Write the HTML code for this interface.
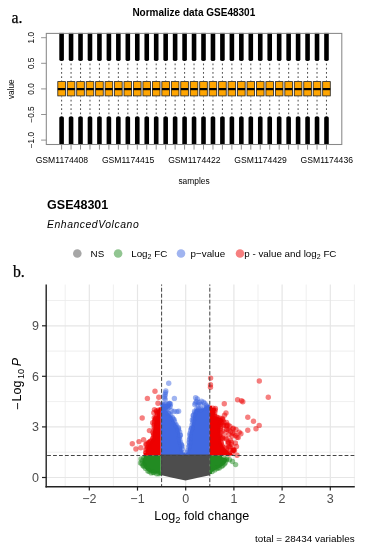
<!DOCTYPE html>
<html><head><meta charset="utf-8"><style>
html,body{margin:0;padding:0;background:#fff;width:367px;height:550px;overflow:hidden}
svg{display:block;filter:blur(0.35px)}
.sans{font-family:"Liberation Sans",Arial,sans-serif}
.serif{font-family:"Liberation Serif","Times New Roman",serif}
.b{font-weight:bold}
.i{font-style:italic}
</style></head><body>
<svg width="367" height="550" viewBox="0 0 367 550">
<text x="11.4" y="22.7" class="serif" font-size="15.8" stroke="#000" stroke-width="0.25">a.</text>
<text x="193.8" y="16.3" class="sans b" font-size="10" text-anchor="middle">Normalize data GSE48301</text>
<rect x="46.3" y="33.4" width="295.5" height="111.1" fill="#fff"/>
<line x1="61.60" y1="60" x2="61.60" y2="81.2" stroke="#555" stroke-width="1.05" stroke-dasharray="1.7 2.55" stroke-dashoffset="0.8"/>
<line x1="61.60" y1="96.4" x2="61.60" y2="117" stroke="#555" stroke-width="1.05" stroke-dasharray="1.7 2.55" stroke-dashoffset="0.8"/>
<line x1="71.06" y1="60" x2="71.06" y2="81.2" stroke="#555" stroke-width="1.05" stroke-dasharray="1.7 2.55" stroke-dashoffset="0.8"/>
<line x1="71.06" y1="96.4" x2="71.06" y2="117" stroke="#555" stroke-width="1.05" stroke-dasharray="1.7 2.55" stroke-dashoffset="0.8"/>
<line x1="80.52" y1="60" x2="80.52" y2="81.2" stroke="#555" stroke-width="1.05" stroke-dasharray="1.7 2.55" stroke-dashoffset="0.8"/>
<line x1="80.52" y1="96.4" x2="80.52" y2="117" stroke="#555" stroke-width="1.05" stroke-dasharray="1.7 2.55" stroke-dashoffset="0.8"/>
<line x1="89.98" y1="60" x2="89.98" y2="81.2" stroke="#555" stroke-width="1.05" stroke-dasharray="1.7 2.55" stroke-dashoffset="0.8"/>
<line x1="89.98" y1="96.4" x2="89.98" y2="117" stroke="#555" stroke-width="1.05" stroke-dasharray="1.7 2.55" stroke-dashoffset="0.8"/>
<line x1="99.44" y1="60" x2="99.44" y2="81.2" stroke="#555" stroke-width="1.05" stroke-dasharray="1.7 2.55" stroke-dashoffset="0.8"/>
<line x1="99.44" y1="96.4" x2="99.44" y2="117" stroke="#555" stroke-width="1.05" stroke-dasharray="1.7 2.55" stroke-dashoffset="0.8"/>
<line x1="108.90" y1="60" x2="108.90" y2="81.2" stroke="#555" stroke-width="1.05" stroke-dasharray="1.7 2.55" stroke-dashoffset="0.8"/>
<line x1="108.90" y1="96.4" x2="108.90" y2="117" stroke="#555" stroke-width="1.05" stroke-dasharray="1.7 2.55" stroke-dashoffset="0.8"/>
<line x1="118.36" y1="60" x2="118.36" y2="81.2" stroke="#555" stroke-width="1.05" stroke-dasharray="1.7 2.55" stroke-dashoffset="0.8"/>
<line x1="118.36" y1="96.4" x2="118.36" y2="117" stroke="#555" stroke-width="1.05" stroke-dasharray="1.7 2.55" stroke-dashoffset="0.8"/>
<line x1="127.82" y1="60" x2="127.82" y2="81.2" stroke="#555" stroke-width="1.05" stroke-dasharray="1.7 2.55" stroke-dashoffset="0.8"/>
<line x1="127.82" y1="96.4" x2="127.82" y2="117" stroke="#555" stroke-width="1.05" stroke-dasharray="1.7 2.55" stroke-dashoffset="0.8"/>
<line x1="137.28" y1="60" x2="137.28" y2="81.2" stroke="#555" stroke-width="1.05" stroke-dasharray="1.7 2.55" stroke-dashoffset="0.8"/>
<line x1="137.28" y1="96.4" x2="137.28" y2="117" stroke="#555" stroke-width="1.05" stroke-dasharray="1.7 2.55" stroke-dashoffset="0.8"/>
<line x1="146.74" y1="60" x2="146.74" y2="81.2" stroke="#555" stroke-width="1.05" stroke-dasharray="1.7 2.55" stroke-dashoffset="0.8"/>
<line x1="146.74" y1="96.4" x2="146.74" y2="117" stroke="#555" stroke-width="1.05" stroke-dasharray="1.7 2.55" stroke-dashoffset="0.8"/>
<line x1="156.20" y1="60" x2="156.20" y2="81.2" stroke="#555" stroke-width="1.05" stroke-dasharray="1.7 2.55" stroke-dashoffset="0.8"/>
<line x1="156.20" y1="96.4" x2="156.20" y2="117" stroke="#555" stroke-width="1.05" stroke-dasharray="1.7 2.55" stroke-dashoffset="0.8"/>
<line x1="165.66" y1="60" x2="165.66" y2="81.2" stroke="#555" stroke-width="1.05" stroke-dasharray="1.7 2.55" stroke-dashoffset="0.8"/>
<line x1="165.66" y1="96.4" x2="165.66" y2="117" stroke="#555" stroke-width="1.05" stroke-dasharray="1.7 2.55" stroke-dashoffset="0.8"/>
<line x1="175.12" y1="60" x2="175.12" y2="81.2" stroke="#555" stroke-width="1.05" stroke-dasharray="1.7 2.55" stroke-dashoffset="0.8"/>
<line x1="175.12" y1="96.4" x2="175.12" y2="117" stroke="#555" stroke-width="1.05" stroke-dasharray="1.7 2.55" stroke-dashoffset="0.8"/>
<line x1="184.58" y1="60" x2="184.58" y2="81.2" stroke="#555" stroke-width="1.05" stroke-dasharray="1.7 2.55" stroke-dashoffset="0.8"/>
<line x1="184.58" y1="96.4" x2="184.58" y2="117" stroke="#555" stroke-width="1.05" stroke-dasharray="1.7 2.55" stroke-dashoffset="0.8"/>
<line x1="194.04" y1="60" x2="194.04" y2="81.2" stroke="#555" stroke-width="1.05" stroke-dasharray="1.7 2.55" stroke-dashoffset="0.8"/>
<line x1="194.04" y1="96.4" x2="194.04" y2="117" stroke="#555" stroke-width="1.05" stroke-dasharray="1.7 2.55" stroke-dashoffset="0.8"/>
<line x1="203.50" y1="60" x2="203.50" y2="81.2" stroke="#555" stroke-width="1.05" stroke-dasharray="1.7 2.55" stroke-dashoffset="0.8"/>
<line x1="203.50" y1="96.4" x2="203.50" y2="117" stroke="#555" stroke-width="1.05" stroke-dasharray="1.7 2.55" stroke-dashoffset="0.8"/>
<line x1="212.96" y1="60" x2="212.96" y2="81.2" stroke="#555" stroke-width="1.05" stroke-dasharray="1.7 2.55" stroke-dashoffset="0.8"/>
<line x1="212.96" y1="96.4" x2="212.96" y2="117" stroke="#555" stroke-width="1.05" stroke-dasharray="1.7 2.55" stroke-dashoffset="0.8"/>
<line x1="222.42" y1="60" x2="222.42" y2="81.2" stroke="#555" stroke-width="1.05" stroke-dasharray="1.7 2.55" stroke-dashoffset="0.8"/>
<line x1="222.42" y1="96.4" x2="222.42" y2="117" stroke="#555" stroke-width="1.05" stroke-dasharray="1.7 2.55" stroke-dashoffset="0.8"/>
<line x1="231.88" y1="60" x2="231.88" y2="81.2" stroke="#555" stroke-width="1.05" stroke-dasharray="1.7 2.55" stroke-dashoffset="0.8"/>
<line x1="231.88" y1="96.4" x2="231.88" y2="117" stroke="#555" stroke-width="1.05" stroke-dasharray="1.7 2.55" stroke-dashoffset="0.8"/>
<line x1="241.34" y1="60" x2="241.34" y2="81.2" stroke="#555" stroke-width="1.05" stroke-dasharray="1.7 2.55" stroke-dashoffset="0.8"/>
<line x1="241.34" y1="96.4" x2="241.34" y2="117" stroke="#555" stroke-width="1.05" stroke-dasharray="1.7 2.55" stroke-dashoffset="0.8"/>
<line x1="250.80" y1="60" x2="250.80" y2="81.2" stroke="#555" stroke-width="1.05" stroke-dasharray="1.7 2.55" stroke-dashoffset="0.8"/>
<line x1="250.80" y1="96.4" x2="250.80" y2="117" stroke="#555" stroke-width="1.05" stroke-dasharray="1.7 2.55" stroke-dashoffset="0.8"/>
<line x1="260.26" y1="60" x2="260.26" y2="81.2" stroke="#555" stroke-width="1.05" stroke-dasharray="1.7 2.55" stroke-dashoffset="0.8"/>
<line x1="260.26" y1="96.4" x2="260.26" y2="117" stroke="#555" stroke-width="1.05" stroke-dasharray="1.7 2.55" stroke-dashoffset="0.8"/>
<line x1="269.72" y1="60" x2="269.72" y2="81.2" stroke="#555" stroke-width="1.05" stroke-dasharray="1.7 2.55" stroke-dashoffset="0.8"/>
<line x1="269.72" y1="96.4" x2="269.72" y2="117" stroke="#555" stroke-width="1.05" stroke-dasharray="1.7 2.55" stroke-dashoffset="0.8"/>
<line x1="279.18" y1="60" x2="279.18" y2="81.2" stroke="#555" stroke-width="1.05" stroke-dasharray="1.7 2.55" stroke-dashoffset="0.8"/>
<line x1="279.18" y1="96.4" x2="279.18" y2="117" stroke="#555" stroke-width="1.05" stroke-dasharray="1.7 2.55" stroke-dashoffset="0.8"/>
<line x1="288.64" y1="60" x2="288.64" y2="81.2" stroke="#555" stroke-width="1.05" stroke-dasharray="1.7 2.55" stroke-dashoffset="0.8"/>
<line x1="288.64" y1="96.4" x2="288.64" y2="117" stroke="#555" stroke-width="1.05" stroke-dasharray="1.7 2.55" stroke-dashoffset="0.8"/>
<line x1="298.10" y1="60" x2="298.10" y2="81.2" stroke="#555" stroke-width="1.05" stroke-dasharray="1.7 2.55" stroke-dashoffset="0.8"/>
<line x1="298.10" y1="96.4" x2="298.10" y2="117" stroke="#555" stroke-width="1.05" stroke-dasharray="1.7 2.55" stroke-dashoffset="0.8"/>
<line x1="307.56" y1="60" x2="307.56" y2="81.2" stroke="#555" stroke-width="1.05" stroke-dasharray="1.7 2.55" stroke-dashoffset="0.8"/>
<line x1="307.56" y1="96.4" x2="307.56" y2="117" stroke="#555" stroke-width="1.05" stroke-dasharray="1.7 2.55" stroke-dashoffset="0.8"/>
<line x1="317.02" y1="60" x2="317.02" y2="81.2" stroke="#555" stroke-width="1.05" stroke-dasharray="1.7 2.55" stroke-dashoffset="0.8"/>
<line x1="317.02" y1="96.4" x2="317.02" y2="117" stroke="#555" stroke-width="1.05" stroke-dasharray="1.7 2.55" stroke-dashoffset="0.8"/>
<line x1="326.48" y1="60" x2="326.48" y2="81.2" stroke="#555" stroke-width="1.05" stroke-dasharray="1.7 2.55" stroke-dashoffset="0.8"/>
<line x1="326.48" y1="96.4" x2="326.48" y2="117" stroke="#555" stroke-width="1.05" stroke-dasharray="1.7 2.55" stroke-dashoffset="0.8"/>
<rect x="59.30" y="30.4" width="4.6" height="30.7" rx="2.3" ry="1.6" fill="#000"/>
<rect x="59.30" y="116.2" width="4.6" height="31.3" rx="2.3" ry="1.6" fill="#000"/>
<rect x="68.76" y="30.4" width="4.6" height="30.7" rx="2.3" ry="1.6" fill="#000"/>
<rect x="68.76" y="116.2" width="4.6" height="31.3" rx="2.3" ry="1.6" fill="#000"/>
<rect x="78.22" y="30.4" width="4.6" height="30.7" rx="2.3" ry="1.6" fill="#000"/>
<rect x="78.22" y="116.2" width="4.6" height="31.3" rx="2.3" ry="1.6" fill="#000"/>
<rect x="87.68" y="30.4" width="4.6" height="30.7" rx="2.3" ry="1.6" fill="#000"/>
<rect x="87.68" y="116.2" width="4.6" height="31.3" rx="2.3" ry="1.6" fill="#000"/>
<rect x="97.14" y="30.4" width="4.6" height="30.7" rx="2.3" ry="1.6" fill="#000"/>
<rect x="97.14" y="116.2" width="4.6" height="31.3" rx="2.3" ry="1.6" fill="#000"/>
<rect x="106.60" y="30.4" width="4.6" height="30.7" rx="2.3" ry="1.6" fill="#000"/>
<rect x="106.60" y="116.2" width="4.6" height="31.3" rx="2.3" ry="1.6" fill="#000"/>
<rect x="116.06" y="30.4" width="4.6" height="30.7" rx="2.3" ry="1.6" fill="#000"/>
<rect x="116.06" y="116.2" width="4.6" height="31.3" rx="2.3" ry="1.6" fill="#000"/>
<rect x="125.52" y="30.4" width="4.6" height="30.7" rx="2.3" ry="1.6" fill="#000"/>
<rect x="125.52" y="116.2" width="4.6" height="31.3" rx="2.3" ry="1.6" fill="#000"/>
<rect x="134.98" y="30.4" width="4.6" height="30.7" rx="2.3" ry="1.6" fill="#000"/>
<rect x="134.98" y="116.2" width="4.6" height="31.3" rx="2.3" ry="1.6" fill="#000"/>
<rect x="144.44" y="30.4" width="4.6" height="30.7" rx="2.3" ry="1.6" fill="#000"/>
<rect x="144.44" y="116.2" width="4.6" height="31.3" rx="2.3" ry="1.6" fill="#000"/>
<rect x="153.90" y="30.4" width="4.6" height="30.7" rx="2.3" ry="1.6" fill="#000"/>
<rect x="153.90" y="116.2" width="4.6" height="31.3" rx="2.3" ry="1.6" fill="#000"/>
<rect x="163.36" y="30.4" width="4.6" height="30.7" rx="2.3" ry="1.6" fill="#000"/>
<rect x="163.36" y="116.2" width="4.6" height="31.3" rx="2.3" ry="1.6" fill="#000"/>
<rect x="172.82" y="30.4" width="4.6" height="30.7" rx="2.3" ry="1.6" fill="#000"/>
<rect x="172.82" y="116.2" width="4.6" height="31.3" rx="2.3" ry="1.6" fill="#000"/>
<rect x="182.28" y="30.4" width="4.6" height="30.7" rx="2.3" ry="1.6" fill="#000"/>
<rect x="182.28" y="116.2" width="4.6" height="31.3" rx="2.3" ry="1.6" fill="#000"/>
<rect x="191.74" y="30.4" width="4.6" height="30.7" rx="2.3" ry="1.6" fill="#000"/>
<rect x="191.74" y="116.2" width="4.6" height="31.3" rx="2.3" ry="1.6" fill="#000"/>
<rect x="201.20" y="30.4" width="4.6" height="30.7" rx="2.3" ry="1.6" fill="#000"/>
<rect x="201.20" y="116.2" width="4.6" height="31.3" rx="2.3" ry="1.6" fill="#000"/>
<rect x="210.66" y="30.4" width="4.6" height="30.7" rx="2.3" ry="1.6" fill="#000"/>
<rect x="210.66" y="116.2" width="4.6" height="31.3" rx="2.3" ry="1.6" fill="#000"/>
<rect x="220.12" y="30.4" width="4.6" height="30.7" rx="2.3" ry="1.6" fill="#000"/>
<rect x="220.12" y="116.2" width="4.6" height="31.3" rx="2.3" ry="1.6" fill="#000"/>
<rect x="229.58" y="30.4" width="4.6" height="30.7" rx="2.3" ry="1.6" fill="#000"/>
<rect x="229.58" y="116.2" width="4.6" height="31.3" rx="2.3" ry="1.6" fill="#000"/>
<rect x="239.04" y="30.4" width="4.6" height="30.7" rx="2.3" ry="1.6" fill="#000"/>
<rect x="239.04" y="116.2" width="4.6" height="31.3" rx="2.3" ry="1.6" fill="#000"/>
<rect x="248.50" y="30.4" width="4.6" height="30.7" rx="2.3" ry="1.6" fill="#000"/>
<rect x="248.50" y="116.2" width="4.6" height="31.3" rx="2.3" ry="1.6" fill="#000"/>
<rect x="257.96" y="30.4" width="4.6" height="30.7" rx="2.3" ry="1.6" fill="#000"/>
<rect x="257.96" y="116.2" width="4.6" height="31.3" rx="2.3" ry="1.6" fill="#000"/>
<rect x="267.42" y="30.4" width="4.6" height="30.7" rx="2.3" ry="1.6" fill="#000"/>
<rect x="267.42" y="116.2" width="4.6" height="31.3" rx="2.3" ry="1.6" fill="#000"/>
<rect x="276.88" y="30.4" width="4.6" height="30.7" rx="2.3" ry="1.6" fill="#000"/>
<rect x="276.88" y="116.2" width="4.6" height="31.3" rx="2.3" ry="1.6" fill="#000"/>
<rect x="286.34" y="30.4" width="4.6" height="30.7" rx="2.3" ry="1.6" fill="#000"/>
<rect x="286.34" y="116.2" width="4.6" height="31.3" rx="2.3" ry="1.6" fill="#000"/>
<rect x="295.80" y="30.4" width="4.6" height="30.7" rx="2.3" ry="1.6" fill="#000"/>
<rect x="295.80" y="116.2" width="4.6" height="31.3" rx="2.3" ry="1.6" fill="#000"/>
<rect x="305.26" y="30.4" width="4.6" height="30.7" rx="2.3" ry="1.6" fill="#000"/>
<rect x="305.26" y="116.2" width="4.6" height="31.3" rx="2.3" ry="1.6" fill="#000"/>
<rect x="314.72" y="30.4" width="4.6" height="30.7" rx="2.3" ry="1.6" fill="#000"/>
<rect x="314.72" y="116.2" width="4.6" height="31.3" rx="2.3" ry="1.6" fill="#000"/>
<rect x="324.18" y="30.4" width="4.6" height="30.7" rx="2.3" ry="1.6" fill="#000"/>
<rect x="324.18" y="116.2" width="4.6" height="31.3" rx="2.3" ry="1.6" fill="#000"/>
<rect x="45.3" y="29.4" width="297.5" height="3.5" fill="#fff"/>
<rect x="45.3" y="145.0" width="297.5" height="3.5" fill="#fff"/>
<rect x="46.3" y="33.4" width="295.5" height="111.1" fill="none" stroke="#888" stroke-width="1.05"/>
<rect x="57.80" y="81.6" width="7.6" height="14.3" fill="#FFA500" stroke="#222" stroke-width="0.8"/>
<line x1="57.80" y1="89.1" x2="65.40" y2="89.1" stroke="#000" stroke-width="2.2"/>
<rect x="67.26" y="81.6" width="7.6" height="14.3" fill="#FFA500" stroke="#222" stroke-width="0.8"/>
<line x1="67.26" y1="89.1" x2="74.86" y2="89.1" stroke="#000" stroke-width="2.2"/>
<rect x="76.72" y="81.6" width="7.6" height="14.3" fill="#FFA500" stroke="#222" stroke-width="0.8"/>
<line x1="76.72" y1="89.1" x2="84.32" y2="89.1" stroke="#000" stroke-width="2.2"/>
<rect x="86.18" y="81.6" width="7.6" height="14.3" fill="#FFA500" stroke="#222" stroke-width="0.8"/>
<line x1="86.18" y1="89.1" x2="93.78" y2="89.1" stroke="#000" stroke-width="2.2"/>
<rect x="95.64" y="81.6" width="7.6" height="14.3" fill="#FFA500" stroke="#222" stroke-width="0.8"/>
<line x1="95.64" y1="89.1" x2="103.24" y2="89.1" stroke="#000" stroke-width="2.2"/>
<rect x="105.10" y="81.6" width="7.6" height="14.3" fill="#FFA500" stroke="#222" stroke-width="0.8"/>
<line x1="105.10" y1="89.1" x2="112.70" y2="89.1" stroke="#000" stroke-width="2.2"/>
<rect x="114.56" y="81.6" width="7.6" height="14.3" fill="#FFA500" stroke="#222" stroke-width="0.8"/>
<line x1="114.56" y1="89.1" x2="122.16" y2="89.1" stroke="#000" stroke-width="2.2"/>
<rect x="124.02" y="81.6" width="7.6" height="14.3" fill="#FFA500" stroke="#222" stroke-width="0.8"/>
<line x1="124.02" y1="89.1" x2="131.62" y2="89.1" stroke="#000" stroke-width="2.2"/>
<rect x="133.48" y="81.6" width="7.6" height="14.3" fill="#FFA500" stroke="#222" stroke-width="0.8"/>
<line x1="133.48" y1="89.1" x2="141.08" y2="89.1" stroke="#000" stroke-width="2.2"/>
<rect x="142.94" y="81.6" width="7.6" height="14.3" fill="#FFA500" stroke="#222" stroke-width="0.8"/>
<line x1="142.94" y1="89.1" x2="150.54" y2="89.1" stroke="#000" stroke-width="2.2"/>
<rect x="152.40" y="81.6" width="7.6" height="14.3" fill="#FFA500" stroke="#222" stroke-width="0.8"/>
<line x1="152.40" y1="89.1" x2="160.00" y2="89.1" stroke="#000" stroke-width="2.2"/>
<rect x="161.86" y="81.6" width="7.6" height="14.3" fill="#FFA500" stroke="#222" stroke-width="0.8"/>
<line x1="161.86" y1="89.1" x2="169.46" y2="89.1" stroke="#000" stroke-width="2.2"/>
<rect x="171.32" y="81.6" width="7.6" height="14.3" fill="#FFA500" stroke="#222" stroke-width="0.8"/>
<line x1="171.32" y1="89.1" x2="178.92" y2="89.1" stroke="#000" stroke-width="2.2"/>
<rect x="180.78" y="81.6" width="7.6" height="14.3" fill="#FFA500" stroke="#222" stroke-width="0.8"/>
<line x1="180.78" y1="89.1" x2="188.38" y2="89.1" stroke="#000" stroke-width="2.2"/>
<rect x="190.24" y="81.6" width="7.6" height="14.3" fill="#FFA500" stroke="#222" stroke-width="0.8"/>
<line x1="190.24" y1="89.1" x2="197.84" y2="89.1" stroke="#000" stroke-width="2.2"/>
<rect x="199.70" y="81.6" width="7.6" height="14.3" fill="#FFA500" stroke="#222" stroke-width="0.8"/>
<line x1="199.70" y1="89.1" x2="207.30" y2="89.1" stroke="#000" stroke-width="2.2"/>
<rect x="209.16" y="81.6" width="7.6" height="14.3" fill="#FFA500" stroke="#222" stroke-width="0.8"/>
<line x1="209.16" y1="89.1" x2="216.76" y2="89.1" stroke="#000" stroke-width="2.2"/>
<rect x="218.62" y="81.6" width="7.6" height="14.3" fill="#FFA500" stroke="#222" stroke-width="0.8"/>
<line x1="218.62" y1="89.1" x2="226.22" y2="89.1" stroke="#000" stroke-width="2.2"/>
<rect x="228.08" y="81.6" width="7.6" height="14.3" fill="#FFA500" stroke="#222" stroke-width="0.8"/>
<line x1="228.08" y1="89.1" x2="235.68" y2="89.1" stroke="#000" stroke-width="2.2"/>
<rect x="237.54" y="81.6" width="7.6" height="14.3" fill="#FFA500" stroke="#222" stroke-width="0.8"/>
<line x1="237.54" y1="89.1" x2="245.14" y2="89.1" stroke="#000" stroke-width="2.2"/>
<rect x="247.00" y="81.6" width="7.6" height="14.3" fill="#FFA500" stroke="#222" stroke-width="0.8"/>
<line x1="247.00" y1="89.1" x2="254.60" y2="89.1" stroke="#000" stroke-width="2.2"/>
<rect x="256.46" y="81.6" width="7.6" height="14.3" fill="#FFA500" stroke="#222" stroke-width="0.8"/>
<line x1="256.46" y1="89.1" x2="264.06" y2="89.1" stroke="#000" stroke-width="2.2"/>
<rect x="265.92" y="81.6" width="7.6" height="14.3" fill="#FFA500" stroke="#222" stroke-width="0.8"/>
<line x1="265.92" y1="89.1" x2="273.52" y2="89.1" stroke="#000" stroke-width="2.2"/>
<rect x="275.38" y="81.6" width="7.6" height="14.3" fill="#FFA500" stroke="#222" stroke-width="0.8"/>
<line x1="275.38" y1="89.1" x2="282.98" y2="89.1" stroke="#000" stroke-width="2.2"/>
<rect x="284.84" y="81.6" width="7.6" height="14.3" fill="#FFA500" stroke="#222" stroke-width="0.8"/>
<line x1="284.84" y1="89.1" x2="292.44" y2="89.1" stroke="#000" stroke-width="2.2"/>
<rect x="294.30" y="81.6" width="7.6" height="14.3" fill="#FFA500" stroke="#222" stroke-width="0.8"/>
<line x1="294.30" y1="89.1" x2="301.90" y2="89.1" stroke="#000" stroke-width="2.2"/>
<rect x="303.76" y="81.6" width="7.6" height="14.3" fill="#FFA500" stroke="#222" stroke-width="0.8"/>
<line x1="303.76" y1="89.1" x2="311.36" y2="89.1" stroke="#000" stroke-width="2.2"/>
<rect x="313.22" y="81.6" width="7.6" height="14.3" fill="#FFA500" stroke="#222" stroke-width="0.8"/>
<line x1="313.22" y1="89.1" x2="320.82" y2="89.1" stroke="#000" stroke-width="2.2"/>
<rect x="322.68" y="81.6" width="7.6" height="14.3" fill="#FFA500" stroke="#222" stroke-width="0.8"/>
<line x1="322.68" y1="89.1" x2="330.28" y2="89.1" stroke="#000" stroke-width="2.2"/>
<line x1="61.60" y1="144.5" x2="61.60" y2="149.6" stroke="#888" stroke-width="0.9"/>
<line x1="71.06" y1="144.5" x2="71.06" y2="149.6" stroke="#888" stroke-width="0.9"/>
<line x1="80.52" y1="144.5" x2="80.52" y2="149.6" stroke="#888" stroke-width="0.9"/>
<line x1="89.98" y1="144.5" x2="89.98" y2="149.6" stroke="#888" stroke-width="0.9"/>
<line x1="99.44" y1="144.5" x2="99.44" y2="149.6" stroke="#888" stroke-width="0.9"/>
<line x1="108.90" y1="144.5" x2="108.90" y2="149.6" stroke="#888" stroke-width="0.9"/>
<line x1="118.36" y1="144.5" x2="118.36" y2="149.6" stroke="#888" stroke-width="0.9"/>
<line x1="127.82" y1="144.5" x2="127.82" y2="149.6" stroke="#888" stroke-width="0.9"/>
<line x1="137.28" y1="144.5" x2="137.28" y2="149.6" stroke="#888" stroke-width="0.9"/>
<line x1="146.74" y1="144.5" x2="146.74" y2="149.6" stroke="#888" stroke-width="0.9"/>
<line x1="156.20" y1="144.5" x2="156.20" y2="149.6" stroke="#888" stroke-width="0.9"/>
<line x1="165.66" y1="144.5" x2="165.66" y2="149.6" stroke="#888" stroke-width="0.9"/>
<line x1="175.12" y1="144.5" x2="175.12" y2="149.6" stroke="#888" stroke-width="0.9"/>
<line x1="184.58" y1="144.5" x2="184.58" y2="149.6" stroke="#888" stroke-width="0.9"/>
<line x1="194.04" y1="144.5" x2="194.04" y2="149.6" stroke="#888" stroke-width="0.9"/>
<line x1="203.50" y1="144.5" x2="203.50" y2="149.6" stroke="#888" stroke-width="0.9"/>
<line x1="212.96" y1="144.5" x2="212.96" y2="149.6" stroke="#888" stroke-width="0.9"/>
<line x1="222.42" y1="144.5" x2="222.42" y2="149.6" stroke="#888" stroke-width="0.9"/>
<line x1="231.88" y1="144.5" x2="231.88" y2="149.6" stroke="#888" stroke-width="0.9"/>
<line x1="241.34" y1="144.5" x2="241.34" y2="149.6" stroke="#888" stroke-width="0.9"/>
<line x1="250.80" y1="144.5" x2="250.80" y2="149.6" stroke="#888" stroke-width="0.9"/>
<line x1="260.26" y1="144.5" x2="260.26" y2="149.6" stroke="#888" stroke-width="0.9"/>
<line x1="269.72" y1="144.5" x2="269.72" y2="149.6" stroke="#888" stroke-width="0.9"/>
<line x1="279.18" y1="144.5" x2="279.18" y2="149.6" stroke="#888" stroke-width="0.9"/>
<line x1="288.64" y1="144.5" x2="288.64" y2="149.6" stroke="#888" stroke-width="0.9"/>
<line x1="298.10" y1="144.5" x2="298.10" y2="149.6" stroke="#888" stroke-width="0.9"/>
<line x1="307.56" y1="144.5" x2="307.56" y2="149.6" stroke="#888" stroke-width="0.9"/>
<line x1="317.02" y1="144.5" x2="317.02" y2="149.6" stroke="#888" stroke-width="0.9"/>
<line x1="326.48" y1="144.5" x2="326.48" y2="149.6" stroke="#888" stroke-width="0.9"/>
<text x="61.90" y="163.3" class="sans" font-size="8.6" text-anchor="middle">GSM1174408</text>
<text x="128.12" y="163.3" class="sans" font-size="8.6" text-anchor="middle">GSM1174415</text>
<text x="194.34" y="163.3" class="sans" font-size="8.6" text-anchor="middle">GSM1174422</text>
<text x="260.56" y="163.3" class="sans" font-size="8.6" text-anchor="middle">GSM1174429</text>
<text x="326.78" y="163.3" class="sans" font-size="8.6" text-anchor="middle">GSM1174436</text>
<text x="194" y="183.9" class="sans" font-size="8.4" text-anchor="middle">samples</text>
<line x1="41.1" y1="37.7" x2="46.3" y2="37.7" stroke="#888" stroke-width="0.9"/>
<text transform="translate(33.9 37.7) rotate(-90)" class="sans" font-size="8.3" text-anchor="middle">1.0</text>
<line x1="41.1" y1="63.3" x2="46.3" y2="63.3" stroke="#888" stroke-width="0.9"/>
<text transform="translate(33.9 63.3) rotate(-90)" class="sans" font-size="8.3" text-anchor="middle">0.5</text>
<line x1="41.1" y1="88.9" x2="46.3" y2="88.9" stroke="#888" stroke-width="0.9"/>
<text transform="translate(33.9 88.9) rotate(-90)" class="sans" font-size="8.3" text-anchor="middle">0.0</text>
<line x1="41.1" y1="114.5" x2="46.3" y2="114.5" stroke="#888" stroke-width="0.9"/>
<text transform="translate(33.9 114.5) rotate(-90)" class="sans" font-size="8.3" text-anchor="middle">−0.5</text>
<line x1="41.1" y1="140.1" x2="46.3" y2="140.1" stroke="#888" stroke-width="0.9"/>
<text transform="translate(33.9 140.1) rotate(-90)" class="sans" font-size="8.3" text-anchor="middle">−1.0</text>
<text transform="translate(13.6 89.2) rotate(-90)" class="sans" font-size="8.3" text-anchor="middle">value</text>
<text x="12.9" y="276.5" class="serif" font-size="15.8" stroke="#000" stroke-width="0.25">b.</text>
<text x="47.1" y="208.9" class="sans b" font-size="12.5">GSE48301</text>
<text x="47.0" y="227.6" class="sans i" font-size="10.4" letter-spacing="0.55">EnhancedVolcano</text>
<circle cx="77.3" cy="253.5" r="4.3" fill="#A6A6A6"/>
<circle cx="118.1" cy="253.5" r="4.3" fill="#91C591"/>
<circle cx="181" cy="253.5" r="4.3" fill="#A0B4F0"/>
<circle cx="240" cy="253.5" r="4.3" fill="#F67F7F"/>
<text x="90.6" y="256.8" class="sans" font-size="9.8">NS</text>
<text x="131.2" y="256.8" class="sans" font-size="9.8">Log<tspan dy="2.3" font-size="7">2</tspan><tspan dy="-2.3"> FC</tspan></text>
<text x="190.6" y="256.8" class="sans" font-size="9.8">p−value</text>
<text x="244.3" y="256.8" class="sans" font-size="9.8">p - value and log<tspan dy="2.3" font-size="7">2</tspan><tspan dy="-2.3"> FC</tspan></text>
<line x1="65.2" y1="284.5" x2="65.2" y2="486.7" stroke="#EBEBEB" stroke-width="0.8"/>
<line x1="113.4" y1="284.5" x2="113.4" y2="486.7" stroke="#EBEBEB" stroke-width="0.8"/>
<line x1="161.6" y1="284.5" x2="161.6" y2="486.7" stroke="#EBEBEB" stroke-width="0.8"/>
<line x1="209.8" y1="284.5" x2="209.8" y2="486.7" stroke="#EBEBEB" stroke-width="0.8"/>
<line x1="258.0" y1="284.5" x2="258.0" y2="486.7" stroke="#EBEBEB" stroke-width="0.8"/>
<line x1="306.2" y1="284.5" x2="306.2" y2="486.7" stroke="#EBEBEB" stroke-width="0.8"/>
<line x1="354.4" y1="284.5" x2="354.4" y2="486.7" stroke="#EBEBEB" stroke-width="0.8"/>
<line x1="46.2" y1="452.2" x2="354.8" y2="452.2" stroke="#EBEBEB" stroke-width="0.8"/>
<line x1="46.2" y1="401.6" x2="354.8" y2="401.6" stroke="#EBEBEB" stroke-width="0.8"/>
<line x1="46.2" y1="351.1" x2="354.8" y2="351.1" stroke="#EBEBEB" stroke-width="0.8"/>
<line x1="46.2" y1="300.5" x2="354.8" y2="300.5" stroke="#EBEBEB" stroke-width="0.8"/>
<line x1="89.3" y1="284.5" x2="89.3" y2="486.7" stroke="#E6E6E6" stroke-width="1.2"/>
<line x1="137.5" y1="284.5" x2="137.5" y2="486.7" stroke="#E6E6E6" stroke-width="1.2"/>
<line x1="185.7" y1="284.5" x2="185.7" y2="486.7" stroke="#E6E6E6" stroke-width="1.2"/>
<line x1="233.9" y1="284.5" x2="233.9" y2="486.7" stroke="#E6E6E6" stroke-width="1.2"/>
<line x1="282.1" y1="284.5" x2="282.1" y2="486.7" stroke="#E6E6E6" stroke-width="1.2"/>
<line x1="330.3" y1="284.5" x2="330.3" y2="486.7" stroke="#E6E6E6" stroke-width="1.2"/>
<line x1="46.2" y1="477.5" x2="354.8" y2="477.5" stroke="#E6E6E6" stroke-width="1.2"/>
<line x1="46.2" y1="426.9" x2="354.8" y2="426.9" stroke="#E6E6E6" stroke-width="1.2"/>
<line x1="46.2" y1="376.3" x2="354.8" y2="376.3" stroke="#E6E6E6" stroke-width="1.2"/>
<line x1="46.2" y1="325.8" x2="354.8" y2="325.8" stroke="#E6E6E6" stroke-width="1.2"/>
<polygon points="160.7,454.0 209.8,454.0 209.8,475.3 199.1,477.6 185.5,480.4 171.3,477.6 160.7,475.0" fill="#4D4D4D"/>
<polygon points="143.8,457.5 142.6,459.1 142.2,462.8 143.7,466.7 146.1,469.8 149.2,472.2 153.3,473.4 158.5,473.7 158.5,475.3 160.7,475.4 160.7,455.3 143.5,455.3 143.5,457.5 143.8,457.5" fill="#228B22"/>
<circle cx="143.7" cy="458.2" r="2.7" fill="#228B22" fill-opacity="0.5"/>
<circle cx="142.2" cy="460.7" r="2.7" fill="#228B22" fill-opacity="0.5"/>
<circle cx="141.9" cy="463.5" r="2.7" fill="#228B22" fill-opacity="0.5"/>
<circle cx="143.7" cy="465.1" r="2.7" fill="#228B22" fill-opacity="0.5"/>
<circle cx="142.9" cy="465.5" r="2.7" fill="#228B22" fill-opacity="0.5"/>
<circle cx="144.0" cy="466.6" r="2.7" fill="#228B22" fill-opacity="0.5"/>
<circle cx="145.6" cy="468.4" r="2.7" fill="#228B22" fill-opacity="0.5"/>
<circle cx="147.9" cy="470.9" r="2.7" fill="#228B22" fill-opacity="0.5"/>
<circle cx="149.3" cy="471.4" r="2.7" fill="#228B22" fill-opacity="0.5"/>
<circle cx="151.2" cy="472.9" r="2.7" fill="#228B22" fill-opacity="0.5"/>
<circle cx="153.4" cy="472.6" r="2.7" fill="#228B22" fill-opacity="0.5"/>
<circle cx="153.7" cy="472.4" r="2.7" fill="#228B22" fill-opacity="0.5"/>
<circle cx="156.6" cy="473.7" r="2.7" fill="#228B22" fill-opacity="0.5"/>
<circle cx="158.8" cy="473.8" r="2.7" fill="#228B22" fill-opacity="0.5"/>
<polygon points="212.0,472.0 215.2,470.1 220.6,467.2 225.3,463.4 227.6,460.0 226.5,458.5 222.0,457.0 222.0,455.3 209.8,455.3 209.8,474.3 212.0,473.8 212.0,472.0" fill="#228B22"/>
<circle cx="212.1" cy="471.5" r="2.7" fill="#228B22" fill-opacity="0.5"/>
<circle cx="214.7" cy="469.9" r="2.7" fill="#228B22" fill-opacity="0.5"/>
<circle cx="216.7" cy="468.5" r="2.7" fill="#228B22" fill-opacity="0.5"/>
<circle cx="218.0" cy="467.7" r="2.7" fill="#228B22" fill-opacity="0.5"/>
<circle cx="219.3" cy="468.0" r="2.7" fill="#228B22" fill-opacity="0.5"/>
<circle cx="221.7" cy="466.2" r="2.7" fill="#228B22" fill-opacity="0.5"/>
<circle cx="222.6" cy="465.5" r="2.7" fill="#228B22" fill-opacity="0.5"/>
<circle cx="224.2" cy="464.1" r="2.7" fill="#228B22" fill-opacity="0.5"/>
<circle cx="225.2" cy="462.8" r="2.7" fill="#228B22" fill-opacity="0.5"/>
<circle cx="226.4" cy="459.9" r="2.7" fill="#228B22" fill-opacity="0.5"/>
<circle cx="226.7" cy="458.9" r="2.7" fill="#228B22" fill-opacity="0.5"/>
<circle cx="224.0" cy="458.1" r="2.7" fill="#228B22" fill-opacity="0.5"/>
<polygon points="181.6,444.3 180.7,438.8 179.9,432.3 178.8,428.0 174.8,421.8 172.2,416.5 169.4,414.1 166.2,410.1 170.2,407.5 171.0,405.2 169.7,403.5 166.0,403.9 163.1,403.4 162.9,403.5 162.9,402.5 160.7,402.5 160.7,454.6 185.2,454.6 185.2,453.6 184.9,452.4 183.2,452.4 182.7,450.9 181.6,444.3" fill="#4169E1"/>
<circle cx="181.8" cy="452.3" r="2.7" fill="#4169E1" fill-opacity="0.5"/>
<circle cx="182.4" cy="449.1" r="2.7" fill="#4169E1" fill-opacity="0.5"/>
<circle cx="181.8" cy="446.4" r="2.7" fill="#4169E1" fill-opacity="0.5"/>
<circle cx="181.8" cy="445.2" r="2.7" fill="#4169E1" fill-opacity="0.5"/>
<circle cx="181.2" cy="444.4" r="2.7" fill="#4169E1" fill-opacity="0.5"/>
<circle cx="180.4" cy="442.1" r="2.7" fill="#4169E1" fill-opacity="0.5"/>
<circle cx="179.8" cy="439.8" r="2.7" fill="#4169E1" fill-opacity="0.5"/>
<circle cx="179.5" cy="437.4" r="2.7" fill="#4169E1" fill-opacity="0.5"/>
<circle cx="180.1" cy="435.5" r="2.7" fill="#4169E1" fill-opacity="0.5"/>
<circle cx="180.4" cy="435.0" r="2.7" fill="#4169E1" fill-opacity="0.5"/>
<circle cx="179.7" cy="432.0" r="2.7" fill="#4169E1" fill-opacity="0.5"/>
<circle cx="178.4" cy="430.0" r="2.7" fill="#4169E1" fill-opacity="0.5"/>
<circle cx="178.6" cy="428.6" r="2.7" fill="#4169E1" fill-opacity="0.5"/>
<circle cx="178.2" cy="427.4" r="2.7" fill="#4169E1" fill-opacity="0.5"/>
<circle cx="176.1" cy="425.7" r="2.7" fill="#4169E1" fill-opacity="0.5"/>
<circle cx="175.9" cy="424.5" r="2.7" fill="#4169E1" fill-opacity="0.5"/>
<circle cx="174.6" cy="421.8" r="2.7" fill="#4169E1" fill-opacity="0.5"/>
<circle cx="174.1" cy="419.6" r="2.7" fill="#4169E1" fill-opacity="0.5"/>
<circle cx="173.3" cy="418.9" r="2.7" fill="#4169E1" fill-opacity="0.5"/>
<circle cx="172.4" cy="417.5" r="2.7" fill="#4169E1" fill-opacity="0.5"/>
<circle cx="170.6" cy="415.3" r="2.7" fill="#4169E1" fill-opacity="0.5"/>
<circle cx="169.1" cy="413.6" r="2.7" fill="#4169E1" fill-opacity="0.5"/>
<circle cx="168.5" cy="413.3" r="2.7" fill="#4169E1" fill-opacity="0.5"/>
<circle cx="166.2" cy="411.5" r="2.7" fill="#4169E1" fill-opacity="0.5"/>
<circle cx="165.8" cy="410.4" r="2.7" fill="#4169E1" fill-opacity="0.5"/>
<circle cx="167.2" cy="408.5" r="2.7" fill="#4169E1" fill-opacity="0.5"/>
<circle cx="169.0" cy="407.3" r="2.7" fill="#4169E1" fill-opacity="0.5"/>
<circle cx="170.2" cy="406.3" r="2.7" fill="#4169E1" fill-opacity="0.5"/>
<circle cx="169.4" cy="403.4" r="2.7" fill="#4169E1" fill-opacity="0.5"/>
<circle cx="169.2" cy="403.5" r="2.7" fill="#4169E1" fill-opacity="0.5"/>
<circle cx="167.9" cy="404.4" r="2.7" fill="#4169E1" fill-opacity="0.5"/>
<circle cx="165.6" cy="403.9" r="2.7" fill="#4169E1" fill-opacity="0.5"/>
<circle cx="162.3" cy="403.9" r="2.7" fill="#4169E1" fill-opacity="0.5"/>
<polygon points="205.8,406.2 203.2,408.3 199.5,408.8 196.5,408.3 195.1,409.5 193.5,413.0 192.9,417.2 192.4,421.8 190.9,427.4 189.4,433.8 188.9,440.1 188.4,446.2 187.4,451.3 187.2,452.4 185.5,452.4 185.3,453.6 185.2,454.6 209.8,454.6 209.8,405.0 207.6,405.0 207.6,405.7 207.4,405.6 205.8,406.2" fill="#4169E1"/>
<circle cx="207.5" cy="406.8" r="2.7" fill="#4169E1" fill-opacity="0.5"/>
<circle cx="206.5" cy="407.1" r="2.7" fill="#4169E1" fill-opacity="0.5"/>
<circle cx="204.2" cy="408.2" r="2.7" fill="#4169E1" fill-opacity="0.5"/>
<circle cx="201.2" cy="409.1" r="2.7" fill="#4169E1" fill-opacity="0.5"/>
<circle cx="200.0" cy="409.9" r="2.7" fill="#4169E1" fill-opacity="0.5"/>
<circle cx="198.5" cy="408.6" r="2.7" fill="#4169E1" fill-opacity="0.5"/>
<circle cx="196.7" cy="409.3" r="2.7" fill="#4169E1" fill-opacity="0.5"/>
<circle cx="194.6" cy="411.2" r="2.7" fill="#4169E1" fill-opacity="0.5"/>
<circle cx="194.9" cy="412.8" r="2.7" fill="#4169E1" fill-opacity="0.5"/>
<circle cx="193.5" cy="414.9" r="2.7" fill="#4169E1" fill-opacity="0.5"/>
<circle cx="193.2" cy="415.6" r="2.7" fill="#4169E1" fill-opacity="0.5"/>
<circle cx="193.3" cy="418.0" r="2.7" fill="#4169E1" fill-opacity="0.5"/>
<circle cx="192.3" cy="420.0" r="2.7" fill="#4169E1" fill-opacity="0.5"/>
<circle cx="193.4" cy="420.2" r="2.7" fill="#4169E1" fill-opacity="0.5"/>
<circle cx="192.9" cy="422.5" r="2.7" fill="#4169E1" fill-opacity="0.5"/>
<circle cx="192.1" cy="425.0" r="2.7" fill="#4169E1" fill-opacity="0.5"/>
<circle cx="191.5" cy="428.2" r="2.7" fill="#4169E1" fill-opacity="0.5"/>
<circle cx="191.7" cy="428.1" r="2.7" fill="#4169E1" fill-opacity="0.5"/>
<circle cx="190.7" cy="429.9" r="2.7" fill="#4169E1" fill-opacity="0.5"/>
<circle cx="190.2" cy="432.9" r="2.7" fill="#4169E1" fill-opacity="0.5"/>
<circle cx="189.8" cy="434.6" r="2.7" fill="#4169E1" fill-opacity="0.5"/>
<circle cx="190.2" cy="436.8" r="2.7" fill="#4169E1" fill-opacity="0.5"/>
<circle cx="190.0" cy="438.5" r="2.7" fill="#4169E1" fill-opacity="0.5"/>
<circle cx="189.4" cy="439.7" r="2.7" fill="#4169E1" fill-opacity="0.5"/>
<circle cx="189.1" cy="442.3" r="2.7" fill="#4169E1" fill-opacity="0.5"/>
<circle cx="189.8" cy="443.2" r="2.7" fill="#4169E1" fill-opacity="0.5"/>
<circle cx="189.3" cy="445.8" r="2.7" fill="#4169E1" fill-opacity="0.5"/>
<circle cx="188.8" cy="447.0" r="2.7" fill="#4169E1" fill-opacity="0.5"/>
<circle cx="188.0" cy="450.4" r="2.7" fill="#4169E1" fill-opacity="0.5"/>
<circle cx="187.3" cy="452.1" r="2.7" fill="#4169E1" fill-opacity="0.5"/>
<polygon points="158.5,409.4 158.2,409.5 156.2,410.8 156.8,415.2 155.0,419.5 153.9,424.7 152.9,432.0 152.3,438.5 149.9,441.9 148.0,444.8 146.5,448.0 145.8,451.3 145.6,453.1 144.0,453.1 143.8,455.3 160.7,455.3 160.7,407.0 158.5,407.7 158.5,409.4" fill="#EE0000"/>
<circle cx="158.4" cy="410.3" r="2.7" fill="#EE0000" fill-opacity="0.5"/>
<circle cx="156.7" cy="411.6" r="2.7" fill="#EE0000" fill-opacity="0.5"/>
<circle cx="157.1" cy="413.3" r="2.7" fill="#EE0000" fill-opacity="0.5"/>
<circle cx="157.6" cy="413.7" r="2.7" fill="#EE0000" fill-opacity="0.5"/>
<circle cx="156.4" cy="416.7" r="2.7" fill="#EE0000" fill-opacity="0.5"/>
<circle cx="155.7" cy="418.5" r="2.7" fill="#EE0000" fill-opacity="0.5"/>
<circle cx="155.7" cy="419.2" r="2.7" fill="#EE0000" fill-opacity="0.5"/>
<circle cx="154.4" cy="421.8" r="2.7" fill="#EE0000" fill-opacity="0.5"/>
<circle cx="154.3" cy="424.0" r="2.7" fill="#EE0000" fill-opacity="0.5"/>
<circle cx="154.2" cy="425.3" r="2.7" fill="#EE0000" fill-opacity="0.5"/>
<circle cx="154.1" cy="427.7" r="2.7" fill="#EE0000" fill-opacity="0.5"/>
<circle cx="154.1" cy="430.0" r="2.7" fill="#EE0000" fill-opacity="0.5"/>
<circle cx="152.8" cy="432.6" r="2.7" fill="#EE0000" fill-opacity="0.5"/>
<circle cx="153.7" cy="433.8" r="2.7" fill="#EE0000" fill-opacity="0.5"/>
<circle cx="153.6" cy="434.8" r="2.7" fill="#EE0000" fill-opacity="0.5"/>
<circle cx="153.3" cy="437.6" r="2.7" fill="#EE0000" fill-opacity="0.5"/>
<circle cx="152.8" cy="438.5" r="2.7" fill="#EE0000" fill-opacity="0.5"/>
<circle cx="152.0" cy="440.1" r="2.7" fill="#EE0000" fill-opacity="0.5"/>
<circle cx="149.2" cy="442.6" r="2.7" fill="#EE0000" fill-opacity="0.5"/>
<circle cx="148.1" cy="443.7" r="2.7" fill="#EE0000" fill-opacity="0.5"/>
<circle cx="148.6" cy="446.6" r="2.7" fill="#EE0000" fill-opacity="0.5"/>
<circle cx="147.5" cy="447.2" r="2.7" fill="#EE0000" fill-opacity="0.5"/>
<circle cx="147.0" cy="448.7" r="2.7" fill="#EE0000" fill-opacity="0.5"/>
<circle cx="145.8" cy="449.6" r="2.7" fill="#EE0000" fill-opacity="0.5"/>
<circle cx="146.0" cy="453.1" r="2.7" fill="#EE0000" fill-opacity="0.5"/>
<polygon points="229.8,453.1 229.7,453.0 223.7,446.9 221.5,442.5 220.4,436.1 220.4,429.9 221.0,424.4 223.2,421.2 222.7,419.1 219.4,417.5 214.7,416.1 215.4,411.6 216.2,409.3 215.1,408.0 212.0,407.4 212.0,405.8 209.8,405.5 209.8,455.3 233.0,455.3 231.7,453.1 229.8,453.1" fill="#EE0000"/>
<circle cx="228.6" cy="452.2" r="2.7" fill="#EE0000" fill-opacity="0.5"/>
<circle cx="226.9" cy="450.9" r="2.7" fill="#EE0000" fill-opacity="0.5"/>
<circle cx="226.4" cy="448.7" r="2.7" fill="#EE0000" fill-opacity="0.5"/>
<circle cx="224.8" cy="447.8" r="2.7" fill="#EE0000" fill-opacity="0.5"/>
<circle cx="222.6" cy="446.6" r="2.7" fill="#EE0000" fill-opacity="0.5"/>
<circle cx="221.8" cy="445.0" r="2.7" fill="#EE0000" fill-opacity="0.5"/>
<circle cx="221.3" cy="442.9" r="2.7" fill="#EE0000" fill-opacity="0.5"/>
<circle cx="220.9" cy="441.8" r="2.7" fill="#EE0000" fill-opacity="0.5"/>
<circle cx="221.1" cy="438.9" r="2.7" fill="#EE0000" fill-opacity="0.5"/>
<circle cx="220.7" cy="437.0" r="2.7" fill="#EE0000" fill-opacity="0.5"/>
<circle cx="219.5" cy="435.3" r="2.7" fill="#EE0000" fill-opacity="0.5"/>
<circle cx="220.0" cy="434.7" r="2.7" fill="#EE0000" fill-opacity="0.5"/>
<circle cx="220.7" cy="432.7" r="2.7" fill="#EE0000" fill-opacity="0.5"/>
<circle cx="220.2" cy="429.9" r="2.7" fill="#EE0000" fill-opacity="0.5"/>
<circle cx="220.4" cy="428.7" r="2.7" fill="#EE0000" fill-opacity="0.5"/>
<circle cx="220.7" cy="426.4" r="2.7" fill="#EE0000" fill-opacity="0.5"/>
<circle cx="220.1" cy="424.4" r="2.7" fill="#EE0000" fill-opacity="0.5"/>
<circle cx="221.7" cy="423.1" r="2.7" fill="#EE0000" fill-opacity="0.5"/>
<circle cx="223.1" cy="420.0" r="2.7" fill="#EE0000" fill-opacity="0.5"/>
<circle cx="222.4" cy="418.4" r="2.7" fill="#EE0000" fill-opacity="0.5"/>
<circle cx="220.0" cy="418.2" r="2.7" fill="#EE0000" fill-opacity="0.5"/>
<circle cx="217.8" cy="417.6" r="2.7" fill="#EE0000" fill-opacity="0.5"/>
<circle cx="216.7" cy="417.0" r="2.7" fill="#EE0000" fill-opacity="0.5"/>
<circle cx="215.0" cy="416.7" r="2.7" fill="#EE0000" fill-opacity="0.5"/>
<circle cx="214.5" cy="416.0" r="2.7" fill="#EE0000" fill-opacity="0.5"/>
<circle cx="213.9" cy="414.1" r="2.7" fill="#EE0000" fill-opacity="0.5"/>
<circle cx="214.8" cy="412.5" r="2.7" fill="#EE0000" fill-opacity="0.5"/>
<circle cx="215.2" cy="410.1" r="2.7" fill="#EE0000" fill-opacity="0.5"/>
<circle cx="215.4" cy="408.4" r="2.7" fill="#EE0000" fill-opacity="0.5"/>
<circle cx="212.9" cy="408.2" r="2.7" fill="#EE0000" fill-opacity="0.5"/>
<circle cx="222.6" cy="430.9" r="2.7" fill="#EE0000" fill-opacity="0.5"/>
<circle cx="226.9" cy="425.3" r="2.7" fill="#EE0000" fill-opacity="0.5"/>
<circle cx="228.8" cy="430.0" r="2.7" fill="#EE0000" fill-opacity="0.5"/>
<circle cx="222.1" cy="419.4" r="2.7" fill="#EE0000" fill-opacity="0.5"/>
<circle cx="226.3" cy="429.1" r="2.7" fill="#EE0000" fill-opacity="0.5"/>
<circle cx="223.6" cy="424.9" r="2.7" fill="#EE0000" fill-opacity="0.5"/>
<circle cx="221.3" cy="422.1" r="2.7" fill="#EE0000" fill-opacity="0.5"/>
<circle cx="226.3" cy="425.9" r="2.7" fill="#EE0000" fill-opacity="0.5"/>
<circle cx="223.8" cy="422.2" r="2.7" fill="#EE0000" fill-opacity="0.5"/>
<circle cx="223.6" cy="425.4" r="2.7" fill="#EE0000" fill-opacity="0.5"/>
<circle cx="222.8" cy="438.4" r="2.7" fill="#EE0000" fill-opacity="0.5"/>
<circle cx="233.7" cy="449.5" r="2.7" fill="#EE0000" fill-opacity="0.5"/>
<circle cx="231.4" cy="442.2" r="2.7" fill="#EE0000" fill-opacity="0.5"/>
<circle cx="230.5" cy="447.3" r="2.7" fill="#EE0000" fill-opacity="0.5"/>
<circle cx="228.0" cy="443.7" r="2.7" fill="#EE0000" fill-opacity="0.5"/>
<circle cx="228.2" cy="441.6" r="2.7" fill="#EE0000" fill-opacity="0.5"/>
<circle cx="222.5" cy="437.5" r="2.7" fill="#EE0000" fill-opacity="0.5"/>
<circle cx="228.5" cy="442.4" r="2.7" fill="#EE0000" fill-opacity="0.5"/>
<circle cx="229.4" cy="446.5" r="2.7" fill="#EE0000" fill-opacity="0.5"/>
<circle cx="226.6" cy="439.3" r="2.7" fill="#EE0000" fill-opacity="0.5"/>
<circle cx="229.1" cy="454.0" r="2.7" fill="#EE0000" fill-opacity="0.5"/>
<circle cx="234.5" cy="450.5" r="2.7" fill="#EE0000" fill-opacity="0.5"/>
<circle cx="232.3" cy="452.4" r="2.7" fill="#EE0000" fill-opacity="0.5"/>
<circle cx="232.7" cy="450.4" r="2.7" fill="#EE0000" fill-opacity="0.5"/>
<circle cx="232.6" cy="433.1" r="2.7" fill="#EE0000" fill-opacity="0.5"/>
<circle cx="234.1" cy="433.9" r="2.7" fill="#EE0000" fill-opacity="0.5"/>
<circle cx="232.9" cy="429.0" r="2.7" fill="#EE0000" fill-opacity="0.5"/>
<circle cx="239.2" cy="432.2" r="2.7" fill="#EE0000" fill-opacity="0.5"/>
<circle cx="237.0" cy="437.3" r="2.7" fill="#EE0000" fill-opacity="0.5"/>
<circle cx="235.8" cy="435.6" r="2.7" fill="#EE0000" fill-opacity="0.5"/>
<circle cx="150.1" cy="441.6" r="2.7" fill="#EE0000" fill-opacity="0.5"/>
<circle cx="148.3" cy="442.4" r="2.7" fill="#EE0000" fill-opacity="0.5"/>
<circle cx="145.7" cy="452.8" r="2.7" fill="#EE0000" fill-opacity="0.5"/>
<circle cx="150.6" cy="450.9" r="2.7" fill="#EE0000" fill-opacity="0.5"/>
<circle cx="150.4" cy="441.1" r="2.7" fill="#EE0000" fill-opacity="0.5"/>
<circle cx="154.7" cy="420.1" r="2.7" fill="#EE0000" fill-opacity="0.5"/>
<circle cx="156.4" cy="410.7" r="2.7" fill="#EE0000" fill-opacity="0.5"/>
<circle cx="153.8" cy="412.7" r="2.7" fill="#EE0000" fill-opacity="0.5"/>
<circle cx="154.3" cy="417.6" r="2.7" fill="#EE0000" fill-opacity="0.5"/>
<circle cx="152.7" cy="422.7" r="2.7" fill="#EE0000" fill-opacity="0.5"/>
<circle cx="155.0" cy="391.3" r="2.7" fill="#EE0000" fill-opacity="0.5"/>
<circle cx="147.4" cy="398.4" r="2.7" fill="#EE0000" fill-opacity="0.5"/>
<circle cx="158.8" cy="397.2" r="2.7" fill="#EE0000" fill-opacity="0.5"/>
<circle cx="158.0" cy="403.3" r="2.7" fill="#EE0000" fill-opacity="0.5"/>
<circle cx="154.5" cy="409.6" r="2.7" fill="#EE0000" fill-opacity="0.5"/>
<circle cx="142.2" cy="418.0" r="2.7" fill="#EE0000" fill-opacity="0.5"/>
<circle cx="155.5" cy="418.5" r="2.7" fill="#EE0000" fill-opacity="0.5"/>
<circle cx="149.4" cy="430.6" r="2.7" fill="#EE0000" fill-opacity="0.5"/>
<circle cx="143.6" cy="439.8" r="2.7" fill="#EE0000" fill-opacity="0.5"/>
<circle cx="139.0" cy="441.6" r="2.7" fill="#EE0000" fill-opacity="0.5"/>
<circle cx="132.3" cy="443.7" r="2.7" fill="#EE0000" fill-opacity="0.5"/>
<circle cx="135.9" cy="449.0" r="2.7" fill="#EE0000" fill-opacity="0.5"/>
<circle cx="140.8" cy="447.7" r="2.7" fill="#EE0000" fill-opacity="0.5"/>
<circle cx="145.9" cy="444.8" r="2.7" fill="#EE0000" fill-opacity="0.5"/>
<circle cx="146.4" cy="444.0" r="2.7" fill="#EE0000" fill-opacity="0.5"/>
<circle cx="210.6" cy="378.1" r="2.7" fill="#EE0000" fill-opacity="0.5"/>
<circle cx="210.5" cy="384.7" r="2.7" fill="#EE0000" fill-opacity="0.5"/>
<circle cx="210.5" cy="387.3" r="2.7" fill="#EE0000" fill-opacity="0.5"/>
<circle cx="224.3" cy="403.7" r="2.7" fill="#EE0000" fill-opacity="0.5"/>
<circle cx="237.6" cy="399.8" r="2.7" fill="#EE0000" fill-opacity="0.5"/>
<circle cx="241.5" cy="400.8" r="2.7" fill="#EE0000" fill-opacity="0.5"/>
<circle cx="242.8" cy="401.8" r="2.7" fill="#EE0000" fill-opacity="0.5"/>
<circle cx="259.3" cy="381.0" r="2.7" fill="#EE0000" fill-opacity="0.5"/>
<circle cx="268.3" cy="397.2" r="2.7" fill="#EE0000" fill-opacity="0.5"/>
<circle cx="224.5" cy="415.3" r="2.7" fill="#EE0000" fill-opacity="0.5"/>
<circle cx="226.0" cy="413.0" r="2.7" fill="#EE0000" fill-opacity="0.5"/>
<circle cx="247.8" cy="417.3" r="2.7" fill="#EE0000" fill-opacity="0.5"/>
<circle cx="253.5" cy="421.3" r="2.7" fill="#EE0000" fill-opacity="0.5"/>
<circle cx="259.2" cy="425.4" r="2.7" fill="#EE0000" fill-opacity="0.5"/>
<circle cx="256.0" cy="428.7" r="2.7" fill="#EE0000" fill-opacity="0.5"/>
<circle cx="247.8" cy="430.3" r="2.7" fill="#EE0000" fill-opacity="0.5"/>
<circle cx="229.8" cy="426.3" r="2.7" fill="#EE0000" fill-opacity="0.5"/>
<circle cx="227.3" cy="429.4" r="2.7" fill="#EE0000" fill-opacity="0.5"/>
<circle cx="233.2" cy="428.3" r="2.7" fill="#EE0000" fill-opacity="0.5"/>
<circle cx="236.0" cy="429.4" r="2.7" fill="#EE0000" fill-opacity="0.5"/>
<circle cx="240.9" cy="433.8" r="2.7" fill="#EE0000" fill-opacity="0.5"/>
<circle cx="238.2" cy="437.6" r="2.7" fill="#EE0000" fill-opacity="0.5"/>
<circle cx="235.4" cy="443.0" r="2.7" fill="#EE0000" fill-opacity="0.5"/>
<circle cx="233.2" cy="450.1" r="2.7" fill="#EE0000" fill-opacity="0.5"/>
<circle cx="233.6" cy="450.5" r="2.7" fill="#EE0000" fill-opacity="0.5"/>
<circle cx="237.1" cy="455.3" r="2.7" fill="#EE0000" fill-opacity="0.5"/>
<circle cx="230.5" cy="440.3" r="2.7" fill="#EE0000" fill-opacity="0.5"/>
<circle cx="225.6" cy="438.1" r="2.7" fill="#EE0000" fill-opacity="0.5"/>
<circle cx="228.9" cy="446.9" r="2.7" fill="#EE0000" fill-opacity="0.5"/>
<circle cx="226.5" cy="422.5" r="2.7" fill="#EE0000" fill-opacity="0.5"/>
<circle cx="228.0" cy="425.0" r="2.7" fill="#EE0000" fill-opacity="0.5"/>
<circle cx="230.5" cy="431.5" r="2.7" fill="#EE0000" fill-opacity="0.5"/>
<circle cx="232.0" cy="436.0" r="2.7" fill="#EE0000" fill-opacity="0.5"/>
<circle cx="225.0" cy="433.0" r="2.7" fill="#EE0000" fill-opacity="0.5"/>
<circle cx="236.5" cy="446.5" r="2.7" fill="#EE0000" fill-opacity="0.5"/>
<circle cx="231.5" cy="444.5" r="2.7" fill="#EE0000" fill-opacity="0.5"/>
<circle cx="229.0" cy="434.5" r="2.7" fill="#EE0000" fill-opacity="0.5"/>
<circle cx="168.7" cy="383.2" r="2.7" fill="#4169E1" fill-opacity="0.5"/>
<circle cx="165.8" cy="390.9" r="2.7" fill="#4169E1" fill-opacity="0.5"/>
<circle cx="165.5" cy="392.6" r="2.7" fill="#4169E1" fill-opacity="0.5"/>
<circle cx="165.2" cy="394.4" r="2.7" fill="#4169E1" fill-opacity="0.5"/>
<circle cx="164.8" cy="396.3" r="2.7" fill="#4169E1" fill-opacity="0.5"/>
<circle cx="164.6" cy="398.0" r="2.7" fill="#4169E1" fill-opacity="0.5"/>
<circle cx="165.2" cy="399.6" r="2.7" fill="#4169E1" fill-opacity="0.5"/>
<circle cx="174.4" cy="398.4" r="2.7" fill="#4169E1" fill-opacity="0.5"/>
<circle cx="170.5" cy="404.0" r="2.7" fill="#4169E1" fill-opacity="0.5"/>
<circle cx="164.5" cy="404.6" r="2.7" fill="#4169E1" fill-opacity="0.5"/>
<circle cx="171.5" cy="410.8" r="2.7" fill="#4169E1" fill-opacity="0.5"/>
<circle cx="174.0" cy="411.5" r="2.7" fill="#4169E1" fill-opacity="0.5"/>
<circle cx="176.8" cy="411.6" r="2.7" fill="#4169E1" fill-opacity="0.5"/>
<circle cx="178.6" cy="411.3" r="2.7" fill="#4169E1" fill-opacity="0.5"/>
<circle cx="197.3" cy="399.0" r="2.7" fill="#4169E1" fill-opacity="0.5"/>
<circle cx="195.6" cy="397.7" r="2.7" fill="#4169E1" fill-opacity="0.5"/>
<circle cx="196.5" cy="401.5" r="2.7" fill="#4169E1" fill-opacity="0.5"/>
<circle cx="199.0" cy="402.5" r="2.7" fill="#4169E1" fill-opacity="0.5"/>
<circle cx="201.4" cy="401.3" r="2.7" fill="#4169E1" fill-opacity="0.5"/>
<circle cx="203.5" cy="402.3" r="2.7" fill="#4169E1" fill-opacity="0.5"/>
<circle cx="204.8" cy="403.4" r="2.7" fill="#4169E1" fill-opacity="0.5"/>
<circle cx="206.3" cy="405.1" r="2.7" fill="#4169E1" fill-opacity="0.5"/>
<circle cx="198.0" cy="405.0" r="2.7" fill="#4169E1" fill-opacity="0.5"/>
<circle cx="194.8" cy="404.5" r="2.7" fill="#4169E1" fill-opacity="0.5"/>
<circle cx="195.5" cy="403.0" r="2.7" fill="#4169E1" fill-opacity="0.5"/>
<circle cx="200.5" cy="404.5" r="2.7" fill="#4169E1" fill-opacity="0.5"/>
<circle cx="235.6" cy="464.6" r="2.7" fill="#228B22" fill-opacity="0.5"/>
<circle cx="229.5" cy="459.7" r="2.7" fill="#228B22" fill-opacity="0.5"/>
<circle cx="232.5" cy="461.5" r="2.7" fill="#228B22" fill-opacity="0.5"/>
<circle cx="141.0" cy="459.0" r="2.7" fill="#228B22" fill-opacity="0.5"/>
<circle cx="140.5" cy="463.0" r="2.7" fill="#228B22" fill-opacity="0.5"/>
<line x1="161.6" y1="284.5" x2="161.6" y2="486.7" stroke="#444" stroke-width="1" stroke-dasharray="3.9 2.05" stroke-dashoffset="2.65"/>
<line x1="209.8" y1="284.5" x2="209.8" y2="486.7" stroke="#444" stroke-width="1" stroke-dasharray="3.9 2.05" stroke-dashoffset="2.65"/>
<line x1="46.2" y1="455.5" x2="354.8" y2="455.5" stroke="#444" stroke-width="1" stroke-dasharray="3.8 2.15" stroke-dashoffset="5.05"/>
<line x1="46.2" y1="284.5" x2="46.2" y2="487.4" stroke="#222" stroke-width="1.4"/>
<line x1="45.5" y1="486.7" x2="354.8" y2="486.7" stroke="#222" stroke-width="1.4"/>
<line x1="42" y1="477.5" x2="46.2" y2="477.5" stroke="#222" stroke-width="1.2"/>
<text x="38.9" y="482.0" class="sans" font-size="12.5" fill="#4D4D4D" text-anchor="end">0</text>
<line x1="42" y1="426.9" x2="46.2" y2="426.9" stroke="#222" stroke-width="1.2"/>
<text x="38.9" y="431.4" class="sans" font-size="12.5" fill="#4D4D4D" text-anchor="end">3</text>
<line x1="42" y1="376.3" x2="46.2" y2="376.3" stroke="#222" stroke-width="1.2"/>
<text x="38.9" y="380.8" class="sans" font-size="12.5" fill="#4D4D4D" text-anchor="end">6</text>
<line x1="42" y1="325.8" x2="46.2" y2="325.8" stroke="#222" stroke-width="1.2"/>
<text x="38.9" y="330.3" class="sans" font-size="12.5" fill="#4D4D4D" text-anchor="end">9</text>
<line x1="89.3" y1="486.7" x2="89.3" y2="490.6" stroke="#222" stroke-width="1.2"/>
<text x="89.3" y="503.2" class="sans" font-size="12.5" fill="#4D4D4D" text-anchor="middle">−2</text>
<line x1="137.5" y1="486.7" x2="137.5" y2="490.6" stroke="#222" stroke-width="1.2"/>
<text x="137.5" y="503.2" class="sans" font-size="12.5" fill="#4D4D4D" text-anchor="middle">−1</text>
<line x1="185.7" y1="486.7" x2="185.7" y2="490.6" stroke="#222" stroke-width="1.2"/>
<text x="185.7" y="503.2" class="sans" font-size="12.5" fill="#4D4D4D" text-anchor="middle">0</text>
<line x1="233.9" y1="486.7" x2="233.9" y2="490.6" stroke="#222" stroke-width="1.2"/>
<text x="233.9" y="503.2" class="sans" font-size="12.5" fill="#4D4D4D" text-anchor="middle">1</text>
<line x1="282.1" y1="486.7" x2="282.1" y2="490.6" stroke="#222" stroke-width="1.2"/>
<text x="282.1" y="503.2" class="sans" font-size="12.5" fill="#4D4D4D" text-anchor="middle">2</text>
<line x1="330.3" y1="486.7" x2="330.3" y2="490.6" stroke="#222" stroke-width="1.2"/>
<text x="330.3" y="503.2" class="sans" font-size="12.5" fill="#4D4D4D" text-anchor="middle">3</text>
<text x="154.3" y="519.7" class="sans" font-size="12.6">Log<tspan dy="2.8" font-size="9.4">2</tspan><tspan dy="-2.8"> fold change</tspan></text>
<text transform="translate(20.8 410) rotate(-90)" class="sans" font-size="12.5"><tspan x="0" dy="1">−</tspan><tspan x="8.5" dy="-1">Log</tspan><tspan x="31" dy="3.2" font-size="9.2">10</tspan><tspan x="43.7" dy="-3.2" class="i">P</tspan></text>
<text x="354.6" y="541.6" class="sans" font-size="9.9" text-anchor="end">total = 28434 variables</text>
</svg>
</body></html>
